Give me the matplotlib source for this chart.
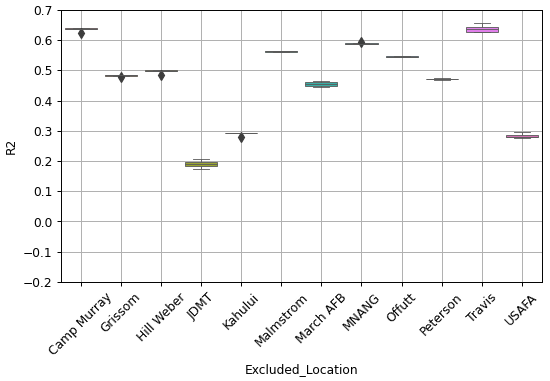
import pandas as pd
import matplotlib
matplotlib.use('Agg')
import matplotlib.pyplot as plt
import seaborn as sns

# R2 per excluded location
locations = ['Camp Murray', 'Grissom', 'Hill Weber', 'JDMT', 'Kahului', 'Malmstrom',
             'March AFB', 'MNANG', 'Offutt', 'Peterson', 'Travis', 'USAFA']
r2_camp_murray = [0.637, 0.638, 0.639, 0.640, 0.622]
r2_grissom = [0.482, 0.483, 0.483, 0.484, 0.477]
r2_hill_weber = [0.497, 0.499, 0.500, 0.502, 0.483]
r2_jdmt = [0.175, 0.184, 0.191, 0.198, 0.206]
r2_kahului = [0.292, 0.293, 0.293, 0.294, 0.280]
r2_malmstrom = [0.561, 0.562, 0.563, 0.564, 0.563]
r2_march_afb = [0.446, 0.449, 0.455, 0.460, 0.466]
r2_mnang = [0.587, 0.588, 0.588, 0.589, 0.595]
r2_offutt = [0.544, 0.545, 0.546, 0.547, 0.545]
r2_peterson = [0.469, 0.470, 0.471, 0.473, 0.472]
r2_travis = [0.627, 0.628, 0.636, 0.643, 0.655]
r2_usafa = [0.276, 0.278, 0.281, 0.286, 0.296]

all_r2 = [r2_camp_murray, r2_grissom, r2_hill_weber, r2_jdmt, r2_kahului, r2_malmstrom,
          r2_march_afb, r2_mnang, r2_offutt, r2_peterson, r2_travis, r2_usafa]

rows = []
for loc, vals in zip(locations, all_r2):
    for v in vals:
        rows.append({'Excluded_Location': loc, 'R2': v})
df = pd.DataFrame(rows)

# husl colours, with the visible ones matched to the reference
colors = sns.color_palette('husl', len(locations)).as_hex()
colors[3] = '#9aa532'
colors[6] = '#3aaea5'
colors[10] = '#e080ea'
colors[11] = '#d070b0'
palette = dict(zip(locations, colors))

fig, ax = plt.subplots(figsize=(6.25, 4.33), dpi=88)
sns.boxplot(data=df, x='Excluded_Location', y='R2', hue='Excluded_Location',
            palette=palette, saturation=1, legend=False, ax=ax, linewidth=0.7,
            linecolor='#5a5a5a',
            flierprops={'marker': 'd', 'markersize': 6,
                        'markerfacecolor': '#3d3d3d', 'markeredgecolor': '#3d3d3d'})
ax.set_ylim(-0.2, 0.7)
ax.grid(True)
ax.set_axisbelow(True)
plt.xticks(rotation=45)
fig.subplots_adjust(left=0.111, right=0.985, top=0.974, bottom=0.26)
plt.savefig('out.png')
